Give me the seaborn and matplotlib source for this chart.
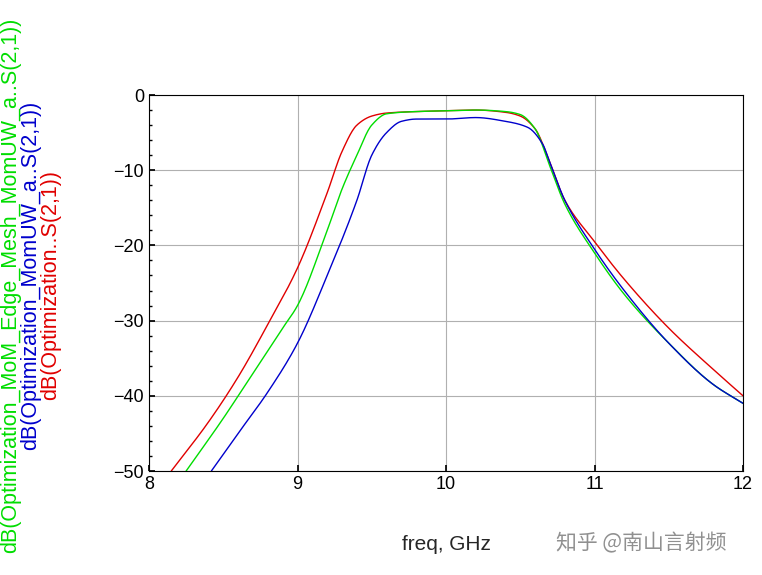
import numpy as np
import pandas as pd
import seaborn as sns
import matplotlib
matplotlib.use("Agg")
import matplotlib.pyplot as plt
from matplotlib.ticker import MultipleLocator

sns.set_theme(style="white")
plt.rcParams['font.family'] = ['Liberation Sans', 'Noto Sans CJK SC', 'DejaVu Sans']

red_f = [8.15, 8.4, 8.6, 8.8, 9.0, 9.2, 9.3, 9.4, 9.5, 9.6, 9.8, 10.0, 10.2, 10.4, 10.5, 10.6, 10.7, 10.8, 11.0, 11.2, 11.5, 11.8, 12.0]
red_v = [-50, -43.5, -37.5, -30.5, -23, -13, -7.5, -4, -2.8, -2.4, -2.2, -2.1, -2.0, -2.3, -2.8, -4.5, -9, -14, -19.5, -24.5, -31, -36.5, -40]
grn_f = [8.25, 8.5, 8.7, 8.9, 9.0, 9.2, 9.3, 9.4, 9.5, 9.6, 9.8, 10.0, 10.2, 10.4, 10.5, 10.6, 10.7, 10.8, 11.0, 11.2, 11.5, 11.8, 12.0]
grn_v = [-50, -43, -37, -31, -28, -18, -12.5, -8, -4, -2.5, -2.2, -2.1, -2.0, -2.2, -2.6, -4.5, -9.5, -14.5, -21, -26.5, -33, -38.5, -41]
blu_f = [8.42, 8.6, 8.8, 9.0, 9.2, 9.4, 9.5, 9.6, 9.7, 9.8, 10.0, 10.2, 10.4, 10.55, 10.65, 10.7, 10.8, 11.0, 11.2, 11.5, 11.8, 12.0]
blu_v = [-50, -45, -39.5, -33, -24, -14, -8, -5, -3.5, -3.2, -3.2, -3.0, -3.5, -4.3, -6.5, -9, -14, -20.5, -26, -33, -38.5, -41]

def pchip(xk, yk, x):
    xk = np.asarray(xk, float); yk = np.asarray(yk, float)
    h = np.diff(xk); d = np.diff(yk) / h
    m = np.zeros_like(yk)
    for i in range(1, len(xk) - 1):
        if d[i-1] * d[i] > 0:
            w1 = 2*h[i] + h[i-1]; w2 = h[i] + 2*h[i-1]
            m[i] = (w1 + w2) / (w1 / d[i-1] + w2 / d[i])
    m[0] = d[0]; m[-1] = d[-1]
    idx = np.clip(np.searchsorted(xk, x) - 1, 0, len(h) - 1)
    t = (x - xk[idx]) / h[idx]
    h00 = 2*t**3 - 3*t**2 + 1; h10 = t**3 - 2*t**2 + t
    h01 = -2*t**3 + 3*t**2; h11 = t**3 - t**2
    return h00*yk[idx] + h10*h[idx]*m[idx] + h01*yk[idx+1] + h11*h[idx]*m[idx+1]

fig = plt.figure(figsize=(7.62, 5.75), dpi=100)
ax = fig.add_axes([149/762, 1-471/575, (743-149)/762, (471-95)/575])
for f, v, c in [(red_f, red_v, '#e00000'), (grn_f, grn_v, '#00dd00'), (blu_f, blu_v, '#0000cc')]:
    x = np.linspace(f[0], f[-1], 500)
    sns.lineplot(x=x, y=pchip(f, v, x), ax=ax, color=c, linewidth=1.0)

ax.set_xlim(8, 12)
ax.set_ylim(-50, 0)
ax.set_xticks([8, 9, 10, 11, 12])
ax.set_yticks([0, -10, -20, -30, -40, -50])
ax.yaxis.set_minor_locator(MultipleLocator(2))
ax.grid(True, which='major', color='#b0b0b0', linewidth=0.8)
for s in ax.spines.values():
    s.set_color('black'); s.set_linewidth(0.8)
ax.tick_params(which='both', direction='in', left=True, bottom=True, length=4, labelsize=13, colors='black')
ax.tick_params(which='minor', length=2.5)
ax.set_xlabel('freq, GHz', fontsize=15, labelpad=30)
ax.set_ylabel('')

fig.text(11/762, 1-285/575, 'dB(Optimization_MoM_Edge_Mesh_MomUW_a..S(2,1))', rotation=90, color='#00dd00', fontsize=15.5, ha='center', va='center')
fig.text(31/762, 1-275/575, 'dB(Optimization_MomUW_a..S(2,1))', rotation=90, color='#0000cc', fontsize=15.5, ha='center', va='center')
fig.text(51/762, 1-285/575, 'dB(Optimization..S(2,1))', rotation=90, color='#e00000', fontsize=15.5, ha='center', va='center')
fig.text(556/762, 1-543/575, '知乎 @南山言射频', color='#909090', fontsize=15, va='center', family=['Noto Sans CJK SC'])

fig.savefig('out.png', dpi=100)
